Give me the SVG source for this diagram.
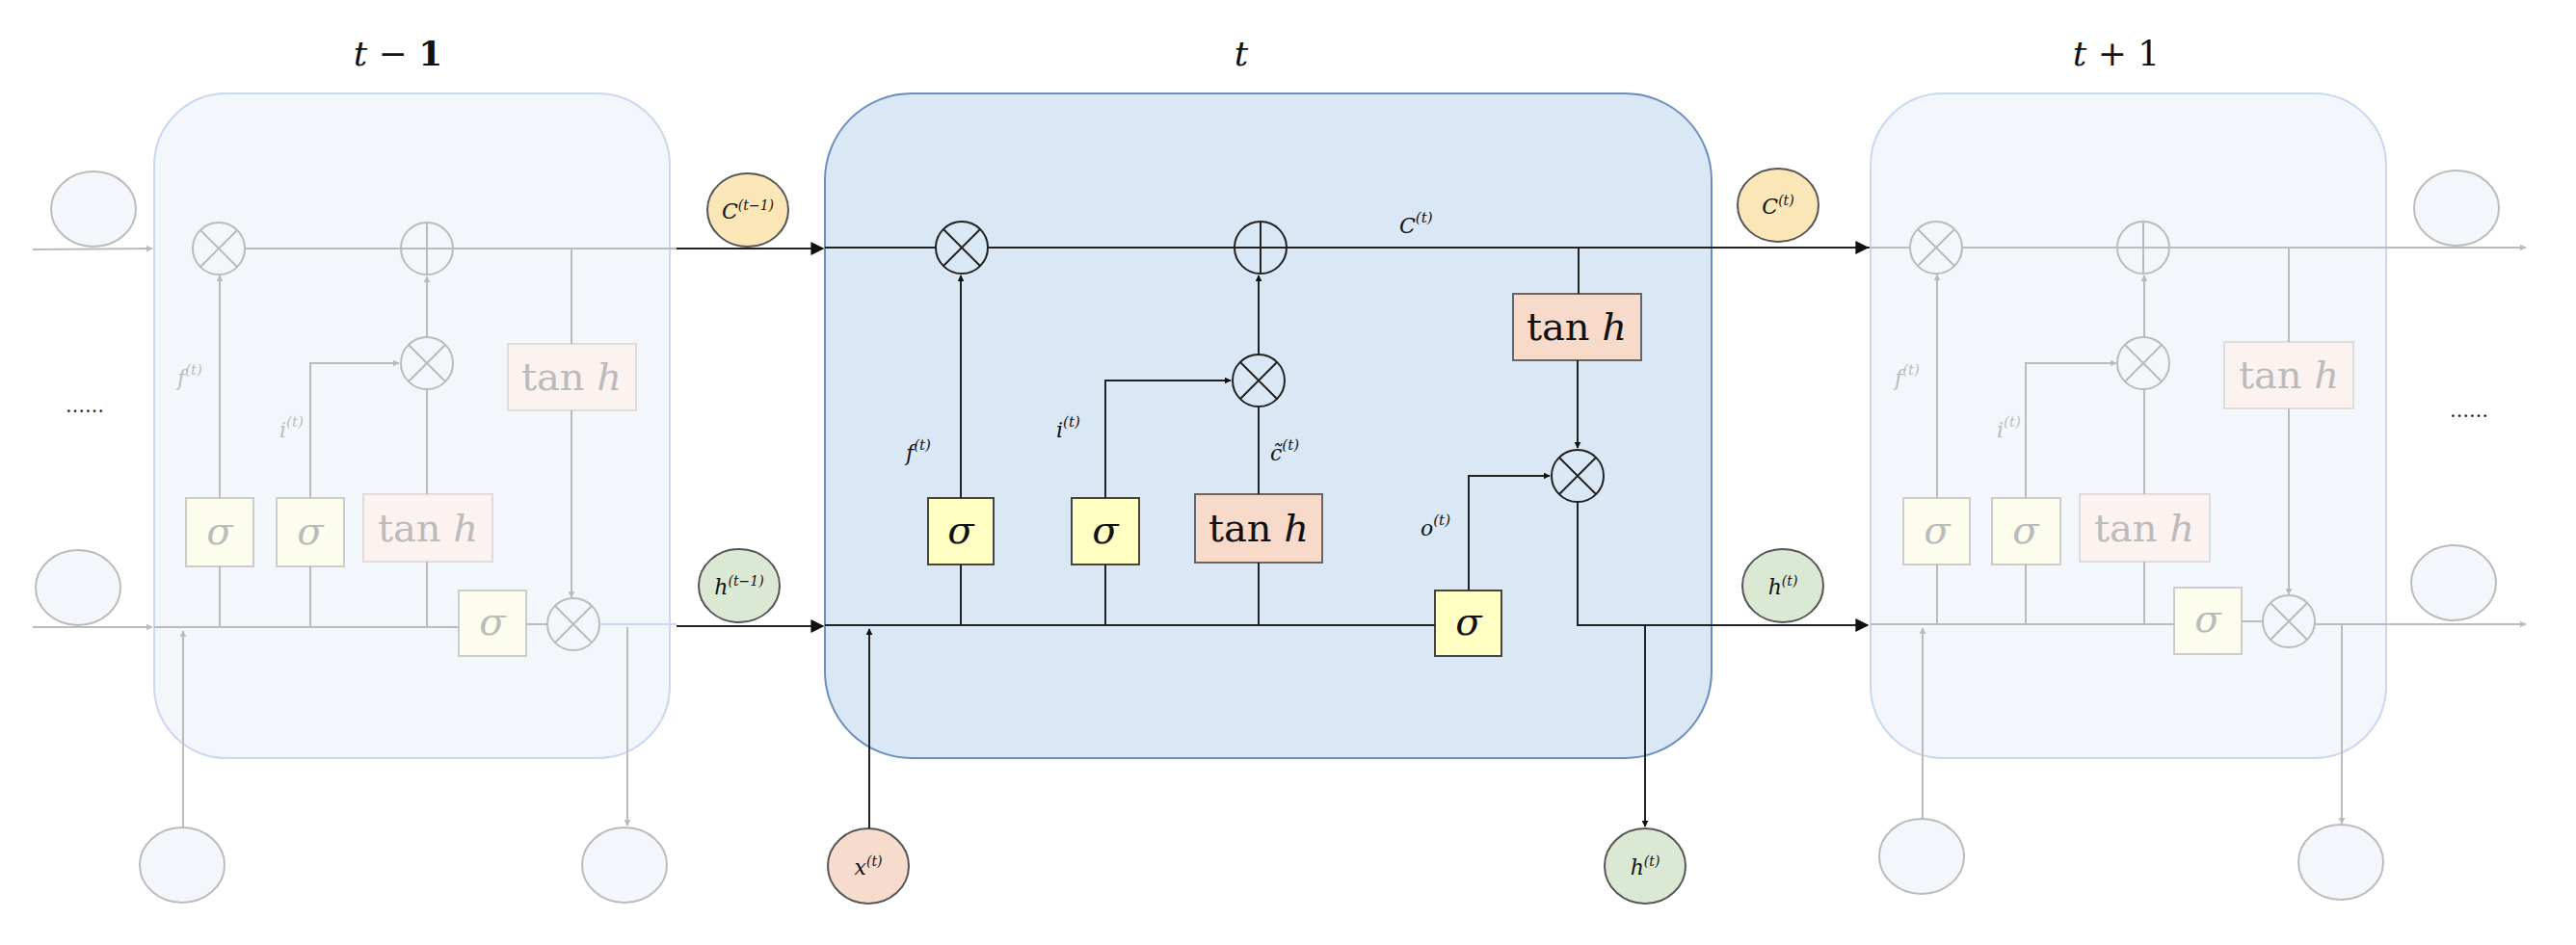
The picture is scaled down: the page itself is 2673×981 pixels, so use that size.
<svg xmlns="http://www.w3.org/2000/svg" width="2673" height="981" viewBox="0 0 2673 981">
<defs>
<marker id="ab" viewBox="0 0 10 10" refX="9" refY="5" markerWidth="7" markerHeight="7" orient="auto-start-reverse" markerUnits="userSpaceOnUse"><path d="M0,0 L10,5 L0,10 z" fill="#111"/></marker>
<marker id="ag" viewBox="0 0 10 10" refX="9" refY="5" markerWidth="7" markerHeight="7" orient="auto-start-reverse" markerUnits="userSpaceOnUse"><path d="M0,0 L10,5 L0,10 z" fill="#bbb"/></marker>
<marker id="abig" viewBox="0 0 10 10" refX="9" refY="5" markerWidth="14" markerHeight="14" orient="auto" markerUnits="userSpaceOnUse"><path d="M0,0 L10,5 L0,10 z" fill="#111"/></marker>
</defs>
<style>
.fbox{fill:#f3f7fc;stroke:#c9d8ef;stroke-width:2}
.mbox{fill:#dae7f4;stroke:#6c8ebf;stroke-width:2}
.gl{stroke:#bbb;stroke-width:2;fill:none}
.bl{stroke:#222;stroke-width:2;fill:none}
.gop{fill:none;stroke:#bbb;stroke-width:2}
.bop{fill:none;stroke:#222;stroke-width:2}
.fsig{fill:#fdfdee;stroke:#ccc;stroke-width:2}
.ftan{fill:#fcf3f0;stroke:#ddd;stroke-width:2}
.msig{fill:#ffffc4;stroke:#444;stroke-width:2}
.mtan{fill:#f8dacb;stroke:#666;stroke-width:2}
.fel{fill:#f3f7fc;stroke:#bbb;stroke-width:2}
.m{font-family:'DejaVu Serif','Liberation Serif',serif}
.gt{fill:#bbb}
.bt{fill:#111}
.big{font-size:40px}
.sm{font-size:22px;font-style:italic}
.ttl{font-size:36px;font-style:italic}
</style>

<g id="panel-left">
<rect class="fbox" x="160" y="97" width="535" height="690" rx="75"/>
<text class="m ttl bt" x="413" y="68" text-anchor="middle">t − <tspan font-style="normal" font-weight="bold">1</tspan></text>
<ellipse class="fel" cx="97" cy="217" rx="44" ry="39"/>
<ellipse class="fel" cx="81" cy="610" rx="44" ry="39"/>
<ellipse class="fel" cx="189" cy="898" rx="44" ry="39"/>
<ellipse class="fel" cx="648" cy="898" rx="44" ry="39"/>
<text class="m bt" x="88" y="428" font-size="20" text-anchor="middle">……</text>
<circle class="gop" cx="227" cy="258" r="27"/><path class="gl" d="M208,239 L246,277 M246,239 L208,277"/>
<circle class="gop" cx="443" cy="258" r="27"/><path class="gl" d="M416,258 H470 M443,231 V285"/>
<circle class="gop" cx="443" cy="377" r="27"/><path class="gl" d="M424,358 L462,396 M462,358 L424,396"/>
<circle class="gop" cx="595" cy="648" r="27"/><path class="gl" d="M576,629 L614,667 M614,629 L576,667"/>
<rect class="ftan" x="527" y="357" width="133" height="69"/>
<text class="m big gt" x="593" y="405" text-anchor="middle">tan <tspan font-style="italic">h</tspan></text>
<rect class="fsig" x="193" y="517" width="70" height="71"/><text class="m big gt" x="228" y="565" text-anchor="middle" font-style="italic">σ</text>
<rect class="fsig" x="287" y="517" width="70" height="71"/><text class="m big gt" x="322" y="565" text-anchor="middle" font-style="italic">σ</text>
<rect class="ftan" x="377" y="513" width="134" height="70"/>
<text class="m big gt" x="444" y="562" text-anchor="middle">tan <tspan font-style="italic">h</tspan></text>
<rect class="fsig" x="476" y="613" width="70" height="68"/><text class="m big gt" x="511" y="659" text-anchor="middle" font-style="italic">σ</text>
<text class="m sm gt" x="184" y="400">f<tspan dy="-11" font-size="15">(t)</tspan></text>
<text class="m sm gt" x="290" y="454">i<tspan dy="-11" font-size="15">(t)</tspan></text>
</g>

<g id="panel-mid">
<rect class="mbox" x="856" y="97" width="920" height="690" rx="90"/>
<text class="m ttl bt" x="1288" y="68" text-anchor="middle">t</text>
<circle class="bop" cx="998" cy="257" r="27"/><path class="bl" d="M979,238 L1017,276 M1017,238 L979,276"/>
<circle class="bop" cx="1308" cy="257" r="27"/><path class="bl" d="M1281,257 H1335 M1308,230 V284"/>
<circle class="bop" cx="1306" cy="395" r="27"/><path class="bl" d="M1287,376 L1325,414 M1325,376 L1287,414"/>
<circle class="bop" cx="1637" cy="494" r="27"/><path class="bl" d="M1618,475 L1656,513 M1656,475 L1618,513"/>
<rect class="mtan" x="1570" y="305" width="133" height="69"/>
<text class="m big bt" x="1636" y="353" text-anchor="middle">tan <tspan font-style="italic">h</tspan></text>
<rect class="msig" x="963" y="517" width="68" height="69"/><text class="m big bt" x="997" y="564" text-anchor="middle" font-style="italic">σ</text>
<rect class="msig" x="1112" y="517" width="70" height="69"/><text class="m big bt" x="1147" y="564" text-anchor="middle" font-style="italic">σ</text>
<rect class="mtan" x="1240" y="513" width="132" height="71"/>
<text class="m big bt" x="1306" y="562" text-anchor="middle">tan <tspan font-style="italic">h</tspan></text>
<rect class="msig" x="1489" y="613" width="69" height="68"/><text class="m big bt" x="1524" y="659" text-anchor="middle" font-style="italic">σ</text>
<text class="m sm bt" x="940" y="478">f<tspan dy="-11" font-size="15">(t)</tspan></text>
<text class="m sm bt" x="1096" y="454">i<tspan dy="-11" font-size="15">(t)</tspan></text>
<text class="m sm bt" x="1318" y="478">c̃<tspan dy="-11" font-size="15">(t)</tspan></text>
<text class="m sm bt" x="1474" y="556">o<tspan dy="-11" font-size="15">(t)</tspan></text>
<text class="m sm bt" x="1452" y="242">C<tspan dy="-11" font-size="15">(t)</tspan></text>
</g>

<g id="panel-right">
<rect class="fbox" x="1941" y="97" width="535" height="690" rx="75"/>
<text class="m ttl bt" x="2196" y="68" text-anchor="middle">t + <tspan font-style="normal">1</tspan></text>
<ellipse class="fel" cx="2549" cy="216" rx="44" ry="39"/>
<ellipse class="fel" cx="2546" cy="605" rx="44" ry="39"/>
<ellipse class="fel" cx="1994" cy="889" rx="44" ry="39"/>
<ellipse class="fel" cx="2429" cy="895" rx="44" ry="39"/>
<text class="m bt" x="2562" y="433" font-size="20" text-anchor="middle">……</text>
<circle class="gop" cx="2009" cy="257" r="27"/><path class="gl" d="M1990,238 L2028,276 M2028,238 L1990,276"/>
<circle class="gop" cx="2224" cy="257" r="27"/><path class="gl" d="M2197,257 H2251 M2224,230 V284"/>
<circle class="gop" cx="2224" cy="377" r="27"/><path class="gl" d="M2205,358 L2243,396 M2243,358 L2205,396"/>
<circle class="gop" cx="2375" cy="645" r="27"/><path class="gl" d="M2356,626 L2394,664 M2394,626 L2356,664"/>
<rect class="ftan" x="2308" y="355" width="134" height="69"/>
<text class="m big gt" x="2375" y="403" text-anchor="middle">tan <tspan font-style="italic">h</tspan></text>
<rect class="fsig" x="1975" y="517" width="69" height="69"/><text class="m big gt" x="2010" y="564" text-anchor="middle" font-style="italic">σ</text>
<rect class="fsig" x="2067" y="517" width="71" height="69"/><text class="m big gt" x="2102" y="564" text-anchor="middle" font-style="italic">σ</text>
<rect class="ftan" x="2158" y="513" width="135" height="70"/>
<text class="m big gt" x="2225" y="562" text-anchor="middle">tan <tspan font-style="italic">h</tspan></text>
<rect class="fsig" x="2256" y="610" width="70" height="69"/><text class="m big gt" x="2291" y="656" text-anchor="middle" font-style="italic">σ</text>
<text class="m sm gt" x="1966" y="400">f<tspan dy="-11" font-size="15">(t)</tspan></text>
<text class="m sm gt" x="2072" y="454">i<tspan dy="-11" font-size="15">(t)</tspan></text>
</g>

<g id="io-nodes">
<g id="c-prev"><ellipse cx="776" cy="218" rx="42" ry="38" fill="#fbe6b8" stroke="#555" stroke-width="2"/><text class="m bt" x="776" y="227" font-size="22" text-anchor="middle" font-style="italic">C<tspan dy="-9" font-size="14">(t−1)</tspan></text></g>
<g id="h-prev"><ellipse cx="767" cy="608" rx="42" ry="38" fill="#dbe9d4" stroke="#555" stroke-width="2"/><text class="m bt" x="767" y="617" font-size="22" text-anchor="middle" font-style="italic">h<tspan dy="-9" font-size="14">(t−1)</tspan></text></g>
<g id="x-t"><ellipse cx="901" cy="899" rx="42" ry="39" fill="#f7dccd" stroke="#555" stroke-width="2"/><text class="m bt" x="901" y="908" font-size="22" text-anchor="middle" font-style="italic">x<tspan dy="-9" font-size="14">(t)</tspan></text></g>
<g id="h-out"><ellipse cx="1707" cy="899" rx="42" ry="39" fill="#dbe9d4" stroke="#555" stroke-width="2"/><text class="m bt" x="1707" y="908" font-size="22" text-anchor="middle" font-style="italic">h<tspan dy="-9" font-size="14">(t)</tspan></text></g>
<g id="c-t"><ellipse cx="1845" cy="213" rx="42" ry="38" fill="#fbe6b8" stroke="#555" stroke-width="2"/><text class="m bt" x="1845" y="222" font-size="22" text-anchor="middle" font-style="italic">C<tspan dy="-9" font-size="14">(t)</tspan></text></g>
<g id="h-t"><ellipse cx="1850" cy="608" rx="42" ry="38" fill="#dbe9d4" stroke="#555" stroke-width="2"/><text class="m bt" x="1850" y="617" font-size="22" text-anchor="middle" font-style="italic">h<tspan dy="-9" font-size="14">(t)</tspan></text></g>
</g>

<g id="connectors">
<path class="gl" d="M34,259 L158,258" marker-end="url(#ag)"/>
<path class="gl" d="M34,651 L158,651" marker-end="url(#ag)"/>
<path class="gl" d="M254,258 H416 M470,258 H702"/>
<path class="gl" d="M160,651 H476 M546,648 H568"/>
<path stroke="#c9d8ef" stroke-width="2" d="M622,648 H702"/>
<path class="gl" d="M593,258 V357 M593,426 V620" marker-end="url(#ag)"/>
<path class="gl" d="M228,651 V588 M228,517 V286" marker-end="url(#ag)"/>
<path class="gl" d="M322,651 V588 M322,517 V377 H414" marker-end="url(#ag)"/>
<path class="gl" d="M443,651 V583 M443,513 V404 M443,350 V287" marker-end="url(#ag)"/>
<path class="gl" d="M190,859 V655" marker-end="url(#ag)"/>
<path class="gl" d="M651,651 V857" marker-end="url(#ag)"/>
<path class="bl" d="M702,258 H854" marker-end="url(#abig)"/>
<path class="bl" d="M702,650 H854" marker-end="url(#abig)"/>
<path class="bl" d="M856,257 H971 M1025,257 H1281 M1335,257 H1940"/>
<path class="bl" d="M856,649 H1489"/>
<path class="bl" d="M902,860 V653" marker-end="url(#ab)"/>
<path class="bl" d="M997,649 V586 M997,517 V286" marker-end="url(#ab)"/>
<path class="bl" d="M1147,649 V586 M1147,517 V395 H1277" marker-end="url(#ab)"/>
<path class="bl" d="M1306,649 V584 M1306,513 V423 M1306,368 V286" marker-end="url(#ab)"/>
<path class="bl" d="M1524,613 V494 H1608" marker-end="url(#ab)"/>
<path class="bl" d="M1638,257 V305 M1637,374 V465" marker-end="url(#ab)"/>
<path class="bl" d="M1637,521 V649 H1707"/>
<path class="bl" d="M1707,649 V858" marker-end="url(#ab)"/>
<path class="bl" d="M1776,257 H1938" marker-end="url(#abig)" stroke="#555"/>
<path class="bl" d="M1707,649 H1938" marker-end="url(#abig)" stroke="#555"/>
<path class="gl" d="M1941,257 H1982 M2036,257 H2197 M2251,257 H2621" marker-end="url(#ag)"/>
<path class="gl" d="M1941,648 H2256 M2326,645 H2348 M2402,648 H2621" marker-end="url(#ag)"/>
<path class="gl" d="M2375,257 V355 M2375,424 V617" marker-end="url(#ag)"/>
<path class="gl" d="M2010,648 V586 M2010,517 V285" marker-end="url(#ag)"/>
<path class="gl" d="M2102,648 V586 M2102,517 V377 H2196" marker-end="url(#ag)"/>
<path class="gl" d="M2225,648 V583 M2225,513 V404 M2225,350 V286" marker-end="url(#ag)"/>
<path class="gl" d="M1995,850 V652" marker-end="url(#ag)"/>
<path class="gl" d="M2430,648 V855" marker-end="url(#ag)"/>
</g>
</svg>
